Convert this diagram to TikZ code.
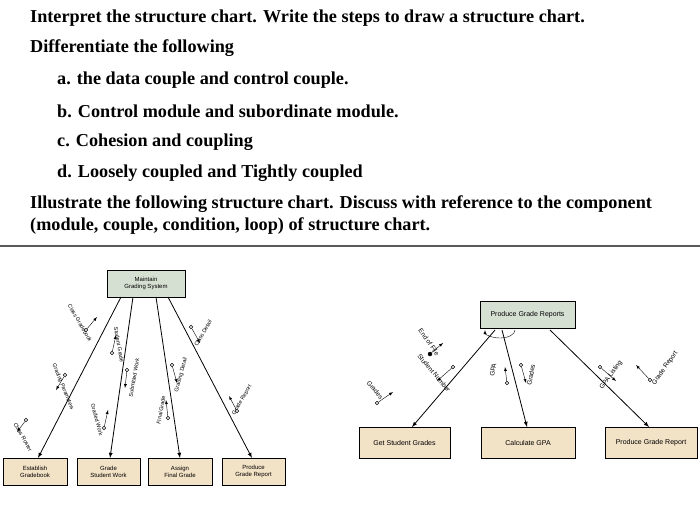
\documentclass[tikz,border=0pt]{standalone}
\usepackage{fontspec}
\setmainfont{Liberation Serif}
\newfontfamily\sansf{Liberation Sans}
\definecolor{topc}{HTML}{D6E0D2}
\definecolor{botc}{HTML}{F2E2C6}
\begin{document}
\begin{tikzpicture}[x=1pt,y=-1pt,
 hd/.style={anchor=west,font=\bfseries\fontsize{18.2}{20}\selectfont,inner sep=0},
 top/.style={draw,fill=topc,minimum height=27pt,align=center,font=\sansf\fontsize{6}{7}\selectfont},
 bot/.style={draw,fill=botc,minimum height=27pt,align=center,font=\sansf\fontsize{6}{7}\selectfont},
 conn/.style={->,>=latex,thick},
 cp/.style={font=\sansf\fontsize{5.5}{6}\selectfont,inner sep=0},
 cpb/.style={font=\sansf\fontsize{6.5}{7}\selectfont,inner sep=0},
 dat/.style={-latex,thin},
 oc/.style={draw,fill=white,circle,inner sep=0,minimum size=3.5pt},
 fc/.style={draw,fill=black,circle,inner sep=0,minimum size=4pt}]
\useasboundingbox (0,0) rectangle (700,511);
\fill[white] (0,0) rectangle (700,511);
\node[hd] (h1) at (30,18) {Interpret the structure chart. Write the steps to draw a structure chart.};
\node[hd] (h2) at (30,48) {Differentiate the following};
\node[hd] (h3) at (57,80) {a. the data couple and control couple.};
\node[hd] (h4) at (57,111) {b. Control module and subordinate module.};
\node[hd] (h5) at (57,142) {c. Cohesion and coupling};
\node[hd] (h6) at (57,173) {d. Loosely coupled and Tightly coupled};
\node[hd] (h7) at (30,204) {Illustrate the following structure chart. Discuss with reference to the component};
\node[hd] (h8) at (30,226) {(module, couple, condition, loop) of structure chart.};
\draw[gray!70!black,line width=1.5pt] (0,246) -- (700,246);
% left chart
\node[top,minimum width=78pt] (m) at (146,283.5) {Maintain\\Grading System};
\node[bot,minimum width=64pt] (b1) at (35,471.5) {Establish\\Gradebook};
\node[bot,minimum width=63pt] (b2) at (108.5,471.5) {Grade\\Student Work};
\node[bot,minimum width=64pt] (b3) at (180,471.5) {Assign\\Final Grade};
\node[bot,minimum width=63pt] (b4) at (253.5,471.5) {Produce\\Grade Report};
\coordinate (t1) at (121,297); \coordinate (t2) at (133,297);
\coordinate (t3) at (156,297); \coordinate (t4) at (168,297);
\draw[conn] (t1) -- (38,458);
\draw[conn] (t2) -- (110,458);
\draw[conn] (t3) -- (180,458);
\draw[conn] (t4) -- (252,458);
\node[cp,rotate=-60] (l1) at (80,323) {Class Gradebook};
\node[oc] (c1) at (86,330) {}; \coordinate (e1) at (97,317); \draw[dat] (c1) -- (e1);
\node[cp,rotate=-68] (l2) at (63,387) {Grading Parameters};
\node[oc] (c2) at (65,375) {}; \coordinate (e2) at (56,390); \draw[dat] (c2) -- (e2);
\node[cp,rotate=-60] (l3) at (23,437) {Class Roster};
\node[oc] (c3) at (26,420) {}; \coordinate (e3) at (17,432); \draw[dat] (c3) -- (e3);
\node[cp,rotate=-80] (l4) at (119,345) {Student Grade};
\node[oc] (c4) at (112,353) {}; \coordinate (e4) at (116,335); \draw[dat] (c4) -- (e4);
\node[cp,rotate=80] (l5) at (134,378) {Submitted Work};
\node[oc] (c5) at (127,370) {}; \coordinate (e5) at (125,388); \draw[dat] (c5) -- (e5);
\node[cp,rotate=-75] (l6) at (97,420) {Graded Work};
\node[oc] (c6) at (104,428) {}; \coordinate (e6) at (108,410); \draw[dat] (c6) -- (e6);
\node[cp,rotate=75] (l7) at (181,375) {Grading Detail};
\node[oc] (c7) at (172,365) {}; \coordinate (e7) at (177,383); \draw[dat] (c7) -- (e7);
\node[cp,rotate=80] (l8) at (161,410) {Final Grade};
\node[oc] (c8) at (168,418) {}; \coordinate (e8) at (166,400); \draw[dat] (c8) -- (e8);
\node[cp,rotate=60] (l9) at (203,333) {Class Detail};
\node[oc] (c9) at (191,327) {}; \coordinate (e9) at (200,343); \draw[dat] (c9) -- (e9);
\node[cp,rotate=60] (l10) at (242,400) {Grade Report};
\node[oc] (c10) at (237,411) {}; \coordinate (e10) at (229,396); \draw[dat] (c10) -- (e10);
% right chart
\node[top,minimum width=95pt,font=\sansf\fontsize{7}{8}\selectfont] (r) at (527.5,314.5) {Produce Grade Reports};
\node[bot,minimum width=91pt,minimum height=31pt,font=\sansf\fontsize{7}{8}\selectfont] (g1) at (404.5,442.5) {Get Student Grades};
\node[bot,minimum width=94pt,minimum height=31pt,font=\sansf\fontsize{7}{8}\selectfont] (g2) at (528,442.5) {Calculate GPA};
\node[bot,minimum width=92pt,minimum height=31pt,font=\sansf\fontsize{7}{8}\selectfont] (g3) at (651,442.5) {Produce Grade Report};
\coordinate (s1) at (495,330); \coordinate (s2) at (502,330); \coordinate (s3) at (550,330);
\draw[conn] (s1) -- (412,427);
\draw[conn] (s2) -- (527,427);
\draw[conn] (s3) -- (649,427);
\coordinate (la) at (515,330);
\draw[thin,->,>=latex] (la) arc (0:180:15 and 8);
\node[cpb,rotate=-55] (k1) at (429,342) {End of File};
\node[fc] (d1) at (430,354) {}; \coordinate (f1) at (443,343); \draw[dat] (d1) -- (f1);
\node[cpb,rotate=-50] (k2) at (434,373) {Student Number};
\node[oc] (d2) at (453,367) {}; \coordinate (f2) at (437,381); \draw[dat] (d2) -- (f2);
\node[cpb,rotate=-50] (k3) at (375,390) {Grades};
\node[oc] (d3) at (377,403) {}; \coordinate (f3) at (393,392); \draw[dat] (d3) -- (f3);
\node[cpb,rotate=80] (k4) at (493,370) {GPA};
\node[oc] (d4) at (507,383) {}; \coordinate (f4) at (505,367); \draw[dat] (d4) -- (f4);
\node[cpb,rotate=80] (k5) at (531,375) {Grades};
\node[oc] (d5) at (521,365) {}; \coordinate (f5) at (526,383); \draw[dat] (d5) -- (f5);
\node[cpb,rotate=55] (k6) at (611,375) {GPA Listing};
\node[oc] (d6) at (600,367) {}; \coordinate (f6) at (616,381); \draw[dat] (d6) -- (f6);
\node[cpb,rotate=55] (k7) at (665,368) {Grade Report};
\node[oc] (d7) at (650,380) {}; \coordinate (f7) at (636,365); \draw[dat] (d7) -- (f7);
\end{tikzpicture}
\end{document}
